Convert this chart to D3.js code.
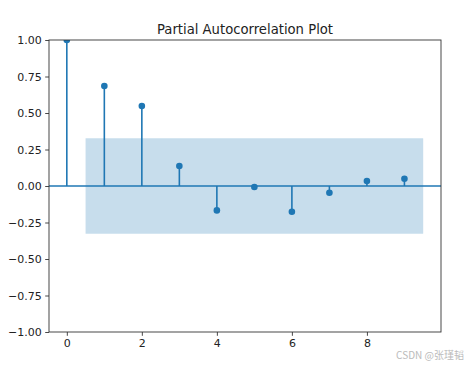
<!DOCTYPE html>
<html>
<head>
<meta charset="utf-8">
<script src="https://cdn.jsdelivr.net/npm/d3@7"></script>
<style>
  html, body { margin: 0; padding: 0; background: #fff; }
  svg { display: block; }
  text { font-family: "DejaVu Sans", sans-serif; }
</style>
</head>
<body>
<script>
const lags = [0, 1, 2, 3, 4, 5, 6, 7, 8, 9];
const pacfValues = [1.0, 0.685, 0.548, 0.137, -0.167, -0.007, -0.176, -0.046, 0.034, 0.05];
const confBand = [0.5, 9.5];
const confLimit = 0.327;
const xTicks = [0, 2, 4, 6, 8];
const yTicks = [-1, -0.75, -0.5, -0.25, 0, 0.25, 0.5, 0.75, 1];
const title = "Partial Autocorrelation Plot";
const watermark = "CSDN @张瑾韬";

const W = 474, H = 366;
const m = { left: 49, right: 441, top: 40, bottom: 332 };
const C0 = "#1f77b4";

const svg = d3.select("body").append("svg").attr("width", W).attr("height", H);

const x = d3.scaleLinear().domain([-0.475, 9.975]).range([m.left, m.right]);
const y = d3.scaleLinear().domain([-1, 1]).range([m.bottom, m.top]);

svg.append("defs").append("clipPath").attr("id", "clip")
  .append("rect").attr("x", m.left).attr("y", m.top)
  .attr("width", m.right - m.left).attr("height", m.bottom - m.top);

const plot = svg.append("g").attr("clip-path", "url(#clip)");

// confidence band
plot.append("rect")
  .attr("x", x(confBand[0])).attr("width", x(confBand[1]) - x(confBand[0]))
  .attr("y", y(confLimit)).attr("height", y(-confLimit) - y(confLimit))
  .attr("fill", C0).attr("fill-opacity", 0.25);

// baseline
plot.append("line")
  .attr("x1", m.left).attr("x2", m.right)
  .attr("y1", y(0)).attr("y2", y(0))
  .attr("stroke", C0).attr("stroke-width", 1.6);

// stems
plot.selectAll("line.stem").data(lags).enter().append("line")
  .attr("class", "stem")
  .attr("x1", d => x(d)).attr("x2", d => x(d))
  .attr("y1", y(0)).attr("y2", (d, i) => y(pacfValues[i]))
  .attr("stroke", C0).attr("stroke-width", 1.6);

// markers
plot.selectAll("circle").data(lags).enter().append("circle")
  .attr("cx", d => x(d)).attr("cy", (d, i) => y(pacfValues[i]))
  .attr("r", 3.3).attr("fill", C0);

// frame
svg.append("rect")
  .attr("x", m.left).attr("y", m.top)
  .attr("width", m.right - m.left).attr("height", m.bottom - m.top)
  .attr("fill", "none").attr("stroke", "#333").attr("stroke-width", 0.9);

// axes
const xAxis = d3.axisBottom(x).tickValues(xTicks).tickFormat(d3.format("d"))
  .tickSize(3.8).tickPadding(3.5);
const gx = svg.append("g").attr("transform", `translate(0,${m.bottom})`).call(xAxis);
const yAxis = d3.axisLeft(y).tickValues(yTicks).tickFormat(d => d3.format(".2f")(d).replace("-", "\u2212"))
  .tickSize(3.8).tickPadding(3.5);
const gy = svg.append("g").attr("transform", `translate(${m.left},0)`).call(yAxis);

[gx, gy].forEach(g => {
  g.select(".domain").remove();
  g.selectAll(".tick line").attr("stroke", "#333").attr("stroke-width", 0.9);
  g.selectAll(".tick text").attr("fill", "#222").style("font-size", "11px")
    .style("font-family", "'DejaVu Sans', sans-serif");
});

// title
svg.append("text")
  .attr("x", (m.left + m.right) / 2).attr("y", 33.5)
  .attr("text-anchor", "middle")
  .style("font-size", "13.2px").attr("fill", "#222")
  .text(title);

// watermark
svg.append("text")
  .attr("x", 464).attr("y", 359)
  .attr("text-anchor", "end")
  .style("font-size", "10px").style("font-family", "'Noto Sans CJK SC', 'DejaVu Sans', sans-serif")
  .attr("fill", "#bbb")
  .text(watermark);
</script>
</body>
</html>
